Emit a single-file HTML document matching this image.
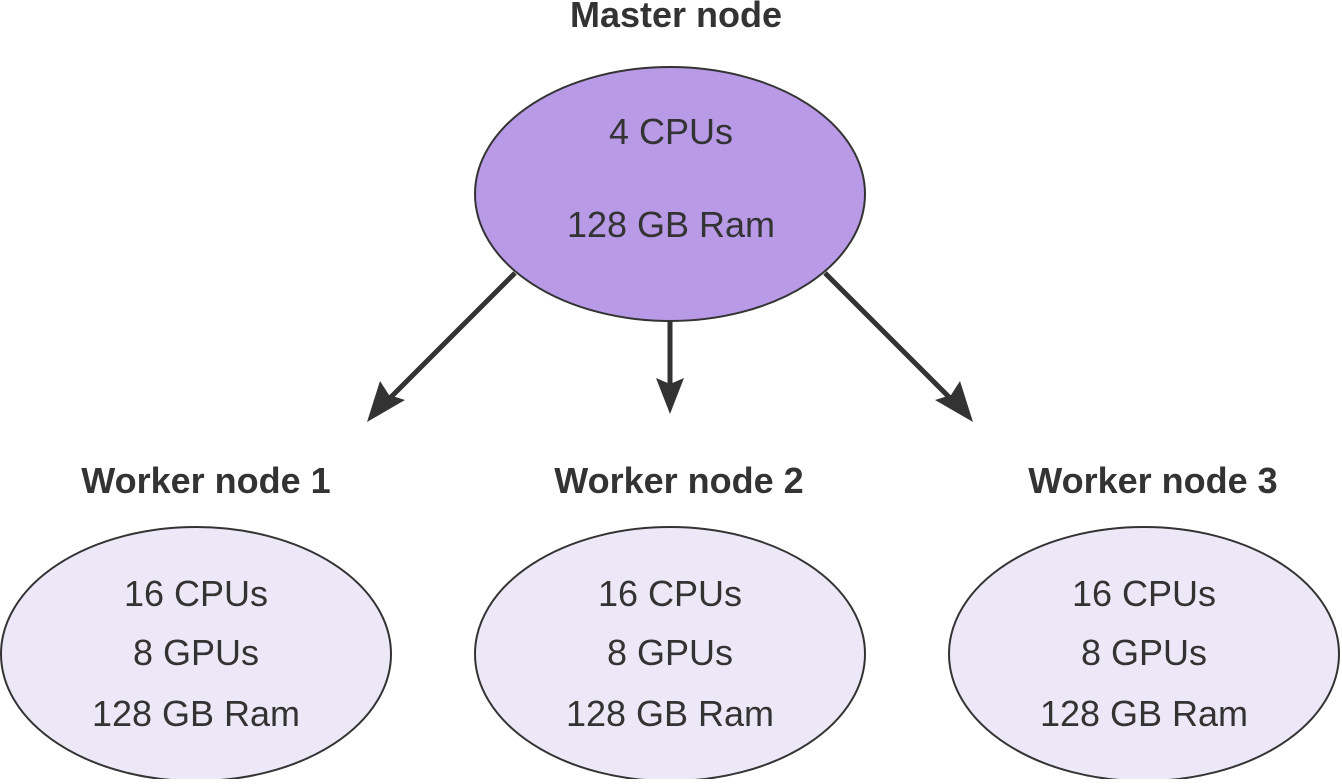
<!DOCTYPE html>
<html><head><style>body{margin:0;background:#fff}</style></head><body>
<svg width="1342" height="779" viewBox="0 0 1342 779" xmlns="http://www.w3.org/2000/svg" font-family="Liberation Sans, sans-serif">
<g stroke="#333" stroke-width="5" fill="none">
<line x1="515" y1="273" x2="385" y2="403"/>
<line x1="670" y1="320" x2="670" y2="390"/>
<line x1="825" y1="273" x2="955" y2="403"/>
</g>
<path d="M367,422 L380,381 L389,395 L405,400 Z" fill="#333"/>
<path d="M670,414 L656,378 L670,384 L684,378 Z" fill="#333"/>
<path d="M973,422 L960,381 L951,395 L935,400 Z" fill="#333"/>
<ellipse cx="670" cy="194" rx="195" ry="127" fill="#b89ae6" stroke="#333" stroke-width="2"/>
<ellipse cx="196" cy="654" rx="195" ry="127" fill="#ede8f7" stroke="#333" stroke-width="2"/>
<ellipse cx="670" cy="654" rx="195" ry="127" fill="#ede8f7" stroke="#333" stroke-width="2"/>
<ellipse cx="1144" cy="654" rx="195" ry="127" fill="#ede8f7" stroke="#333" stroke-width="2"/>
<g fill="#333" font-size="36" text-anchor="middle">
<text x="676" y="27" font-weight="bold">Master node</text>
<text x="671" y="144">4 CPUs</text>
<text x="671" y="237">128 GB Ram</text>
<text x="206" y="493" font-weight="bold">Worker node 1</text>
<text x="679" y="493" font-weight="bold">Worker node 2</text>
<text x="1153" y="493" font-weight="bold">Worker node 3</text>
<g>
<text x="196" y="606">16 CPUs</text><text x="196" y="665">8 GPUs</text><text x="196" y="726">128 GB Ram</text>
<text x="670" y="606">16 CPUs</text><text x="670" y="665">8 GPUs</text><text x="670" y="726">128 GB Ram</text>
<text x="1144" y="606">16 CPUs</text><text x="1144" y="665">8 GPUs</text><text x="1144" y="726">128 GB Ram</text>
</g></g>
</svg>
</body></html>
